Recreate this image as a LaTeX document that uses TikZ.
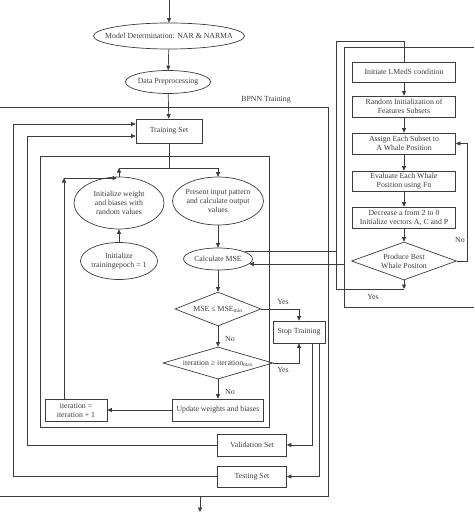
\documentclass[tikz,border=0pt]{standalone}
\usepackage{fontspec}
\setmainfont{Liberation Serif}
\usepackage{xcolor}
\usepackage{tikz}
\usetikzlibrary{arrows.meta,shapes.geometric,calc}
\definecolor{GrisLinea}{RGB}{60,60,60}

\begin{document}
\begin{tikzpicture}[x=1pt,y=-1pt,>={Triangle[length=4.5pt,width=4pt]},
  color=GrisLinea,line width=0.7pt,font=\fontsize{7.8}{9}\selectfont,
  box/.style={draw,rectangle,inner sep=1pt,align=center},
  oval/.style={draw,ellipse,inner sep=-20pt,align=center},
  decision/.style={draw,diamond,inner sep=-20pt,align=center}]
  \useasboundingbox (0,0) rectangle (474,513);
  \coordinate (start) at (169,0);
  \coordinate (exit) at (200,496);
  \coordinate (end) at (200,512);
  \coordinate (split) at (169,168);
  \coordinate (jl) at (119,168);
  \coordinate (jr) at (218,168);
  \coordinate (back) at (64,178);
  \coordinate (bk2) at (117,178);
  \coordinate (tv) at (27,136);
  \coordinate (tt) at (13,124);
  \coordinate (tl) at (336,41);
  \coordinate (yes) at (404,289);
  \coordinate (fr) at (344,264);
  % BPNN side
  \node[oval,minimum width=151pt,minimum height=26pt] (model) at (169,36) {Model Determination: NAR \& NARMA};
  \node[oval,minimum width=85pt,minimum height=23pt] (prep) at (168,82) {Data Preprocessing};
  \node[box,minimum width=66pt,minimum height=24pt] (train) at (169,131) {Training Set};
  \node[oval,minimum width=90pt,minimum height=52pt] (initw) at (119,203) {Initialize weight\\and biases with\\random values};
  \node[oval,minimum width=91pt,minimum height=48pt] (present) at (218,201) {Present input pattern\\and calculate output\\values};
  \node[oval,minimum width=77pt,minimum height=37pt] (epoch) at (119,261) {Initialize\\trainingepoch = 1};
  \node[oval,minimum width=69pt,minimum height=22pt] (mse) at (218,259) {Calculate MSE};
  \node[decision,minimum width=86pt,minimum height=34pt] (dmse) at (218,309) {MSE ≤ MSE\textsubscript{min}};
  \node[decision,minimum width=110pt,minimum height=32pt] (diter) at (218,363) {iteration ≥ iteration\textsubscript{max}};
  \node[box,minimum width=91pt,minimum height=22pt] (update) at (218,410) {Update weights and biases};
  \node[box,minimum width=62pt,minimum height=22pt] (incr) at (76,410) {iteration =\\iteration + 1};
  \node[box,minimum width=52pt,minimum height=22pt] (stop) at (299,332) {Stop Training};
  \node[box,minimum width=69pt,minimum height=22pt] (valid) at (252,445) {Validation Set};
  \node[box,minimum width=69pt,minimum height=21pt] (test) at (252,476.5) {Testing Set};
  \node (bpnn) at (266,100) {BPNN Training};
  \node (yes1) at (283,302) {Yes};
  \node (no1) at (230,339) {No};
  \node (yes2) at (283,370) {Yes};
  \node (no2) at (230,392) {No};
  % whale side
  \node[box,minimum width=103pt,minimum height=20pt] (lmeds) at (404,72) {Initiate LMedS condition};
  \node[box,minimum width=103pt,minimum height=21pt] (rand) at (404,106.5) {Random Initialization of\\Features Subsets};
  \node[box,minimum width=103pt,minimum height=21pt] (assign) at (404,143.5) {Assign Each Subset to\\A Whale Position};
  \node[box,minimum width=103pt,minimum height=20pt] (eval) at (404,181) {Evaluate Each Whale\\Position using Fn};
  \node[box,minimum width=103pt,minimum height=21pt] (decr) at (404,217.5) {Decrease a from 2 to 0\\Initialize vectors A, C and P};
  \node[decision,minimum width=105pt,minimum height=38pt] (best) at (404,261) {Produce Best\\Whale Positon};
  \node (no3) at (460,240) {No};
  \node (yes3) at (373,297) {Yes};
  % frames
  \draw (0,107) -- (328,107) -- (328,496) -- (0,496);
  \draw (40,156) rectangle (269,427);
  \draw (474,47) -| (344,307) -- (474,307);
  % connectors
  \draw[->] (start) -- (model);
  \draw[->] (model) -- (prep);
  \draw[->] (prep) -- (train);
  \draw (train) -- (split);
  \draw (jl) -- (jr);
  \draw[->] (jr) -- (present);
  \draw[->] (initw) -- (jl);
  \draw[->] (epoch) -- (initw);
  \draw[->] (incr.north -| back) -- (back);
  \draw[->] (back) -- (bk2);
  \draw[->] (present) -- (mse);
  \draw[->] (mse) -- (dmse);
  \draw[->] (dmse) -- (diter);
  \draw[->] (diter) -- (update);
  \draw[->] (dmse.east) -| (stop.north);
  \draw[->] (diter.east) -| (stop.south);
  \draw[->] (update) -- (incr);
  \draw[->] ([xshift=13pt]stop.south) |- (valid.east);
  \draw[->] ([xshift=20pt]stop.south) |- (test.east);
  \draw[->] (valid.west) -| (tv) -- (tv -| train.west);
  \draw[->] (test.west) -| (tt) -- (tt -| train.west);
  \draw[->] (exit) -- (end);
  \draw[->] (lmeds) -- (rand);
  \draw[->] (rand) -- (assign);
  \draw[->] (assign) -- (eval);
  \draw[->] (eval) -- (decr);
  \draw[->] (decr) -- (best);
  \draw[->] (best.east) -- ++(10,0) |- (assign.east);
  \draw[->] (best) -- (yes);
  \draw (yes) -| (tl) -| (lmeds.north);
  \draw (mse.15) -- (mse.15 -| tl);
  \draw[->] (fr) -- (fr -| mse.-9);
\end{tikzpicture}
\end{document}
